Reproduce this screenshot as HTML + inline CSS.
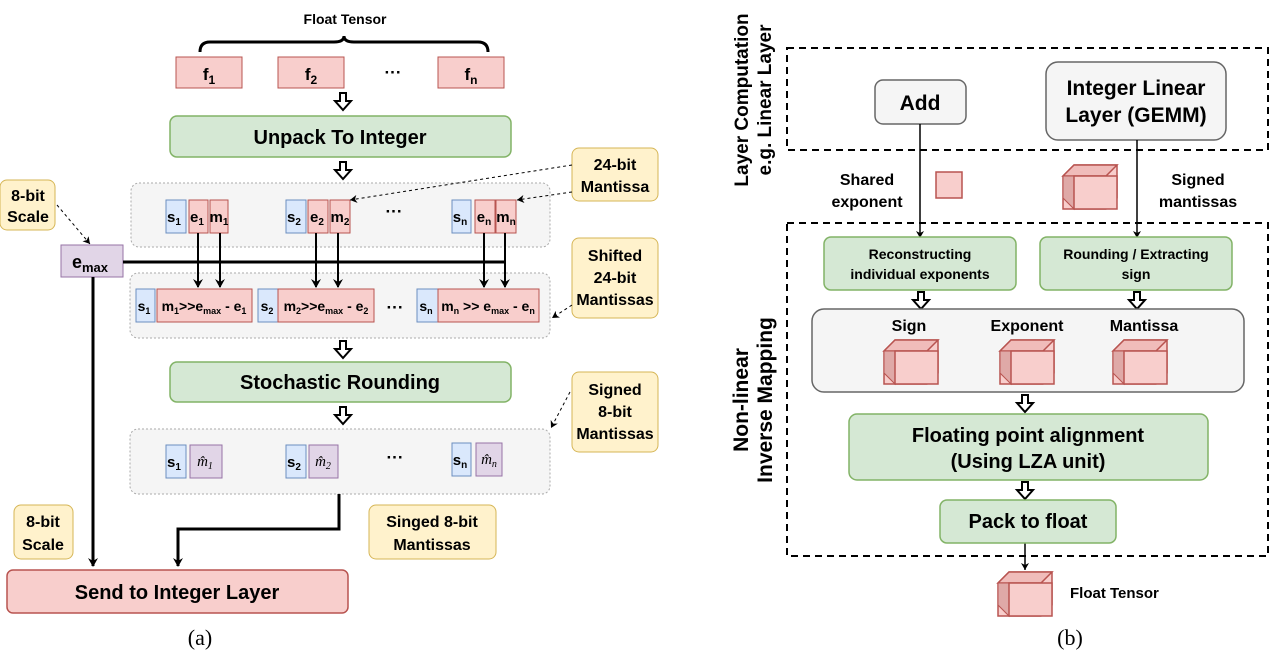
<!DOCTYPE html>
<html><head><meta charset="utf-8"><style>
body{margin:0;background:#fff;}
svg{display:block;font-family:"Liberation Sans",sans-serif;font-weight:bold;}
</style></head><body>
<svg width="1272" height="657" viewBox="0 0 1272 657" xmlns="http://www.w3.org/2000/svg">
<defs>
<marker id="ah" markerWidth="10" markerHeight="10" refX="8" refY="5" orient="auto" markerUnits="userSpaceOnUse"><path d="M0,0 L9,5 L0,10 L3,5 z" fill="#000"/></marker>
<marker id="ahs" markerWidth="8" markerHeight="8" refX="7" refY="4" orient="auto" markerUnits="userSpaceOnUse"><path d="M0,0 L7,4 L0,8 L2,4 z" fill="#000"/></marker>
<g id="hol"><path d="M-3,0 h6 v8 h5 l-8,9 l-8,-9 h5 z" fill="#fff" stroke="#000" stroke-width="2"/></g>
<g id="cube"><path d="M0,11 l11,-11 h43 v33 l-11,11 h-43 z" fill="#f8cecc" stroke="#b85450" stroke-width="1.5"/><path d="M0,11 l11,-11 h43 l-11,11 z" fill="#f0bcba" stroke="#b85450" stroke-width="1.5"/><path d="M0,11 h11 v33 l-11,-11 z" fill="#dfa9a7" stroke="#b85450" stroke-width="1"/><rect x="11" y="11" width="43" height="33" fill="#f8cecc" stroke="#b85450" stroke-width="1.5"/></g>
</defs>

<!-- ===== LEFT (a) ===== -->
<text x="345" y="24" font-size="14" text-anchor="middle">Float Tensor</text>
<path d="M200,52 q0,-10 10,-10 h124 q10,0 10,-6 q0,6 10,6 h124 q10,0 10,10" fill="none" stroke="#000" stroke-width="3"/>
<g font-size="17" text-anchor="middle">
<rect x="176" y="57" width="66" height="31" fill="#f8cecc" stroke="#b85450"/><text x="209" y="80">f<tspan font-size="12" dy="4">1</tspan></text>
<rect x="278" y="57" width="66" height="31" fill="#f8cecc" stroke="#b85450"/><text x="311" y="80">f<tspan font-size="12" dy="4">2</tspan></text>
<text x="393" y="78">···</text>
<rect x="438" y="57" width="66" height="31" fill="#f8cecc" stroke="#b85450"/><text x="471" y="80">f<tspan font-size="12" dy="4">n</tspan></text>
</g>
<use href="#hol" x="343" y="93"/>
<rect x="170" y="116" width="341" height="41" rx="7" fill="#d5e8d4" stroke="#82b366" stroke-width="1.5"/>
<text x="340" y="144" font-size="20" text-anchor="middle">Unpack To Integer</text>
<use href="#hol" x="343" y="162"/>

<!-- container 1 -->
<rect x="131" y="183" width="419" height="64" rx="8" fill="#f5f5f5" stroke="#aaa" stroke-dasharray="2,2"/>
<g font-size="15" text-anchor="middle">
<rect x="166" y="200" width="20" height="33" fill="#dae8fc" stroke="#6c8ebf"/><text x="174" y="222">s<tspan font-size="10" dy="3">1</tspan></text>
<rect x="189" y="200" width="19" height="33" fill="#f8cecc" stroke="#b85450"/><text x="197" y="222">e<tspan font-size="10" dy="3">1</tspan></text>
<rect x="210" y="200" width="18" height="33" fill="#f8cecc" stroke="#b85450"/><text x="219" y="222">m<tspan font-size="10" dy="3">1</tspan></text>
<rect x="286" y="200" width="20" height="33" fill="#dae8fc" stroke="#6c8ebf"/><text x="294" y="222">s<tspan font-size="10" dy="3">2</tspan></text>
<rect x="308" y="200" width="20" height="33" fill="#f8cecc" stroke="#b85450"/><text x="317" y="222">e<tspan font-size="10" dy="3">2</tspan></text>
<rect x="330" y="200" width="20" height="33" fill="#f8cecc" stroke="#b85450"/><text x="340" y="222">m<tspan font-size="10" dy="3">2</tspan></text>
<text x="394" y="217" font-size="17">···</text>
<rect x="452" y="200" width="19" height="33" fill="#dae8fc" stroke="#6c8ebf"/><text x="460" y="222">s<tspan font-size="10" dy="3">n</tspan></text>
<rect x="475" y="200" width="20" height="33" fill="#f8cecc" stroke="#b85450"/><text x="484" y="222">e<tspan font-size="10" dy="3">n</tspan></text>
<rect x="496" y="200" width="20" height="33" fill="#f8cecc" stroke="#b85450"/><text x="506" y="222">m<tspan font-size="10" dy="3">n</tspan></text>
</g>

<!-- yellow notes -->
<g font-size="16" text-anchor="middle">
<rect x="572" y="148" width="86" height="53" rx="7" fill="#fff2cc" stroke="#d6b656"/><text x="615" y="170">24-bit</text><text x="615" y="192">Mantissa</text>
<rect x="0" y="180" width="55" height="50" rx="7" fill="#fff2cc" stroke="#d6b656"/><text x="28" y="201">8-bit</text><text x="28" y="222">Scale</text>
<rect x="572" y="238" width="86" height="80" rx="7" fill="#fff2cc" stroke="#d6b656"/><text x="615" y="261">Shifted</text><text x="615" y="283">24-bit</text><text x="615" y="305">Mantissas</text>
<rect x="572" y="372" width="86" height="80" rx="7" fill="#fff2cc" stroke="#d6b656"/><text x="615" y="395">Signed</text><text x="615" y="417">8-bit</text><text x="615" y="439">Mantissas</text>
<rect x="14" y="505" width="59" height="54" rx="7" fill="#fff2cc" stroke="#d6b656"/><text x="43" y="527">8-bit</text><text x="43" y="550">Scale</text>
<rect x="369" y="505" width="127" height="54" rx="7" fill="#fff2cc" stroke="#d6b656"/><text x="432" y="527">Singed 8-bit</text><text x="432" y="550">Mantissas</text>
</g>
<g stroke="#000" stroke-dasharray="3,3" fill="none" stroke-width="1">
<path d="M572,165 L350,200" marker-end="url(#ahs)"/>
<path d="M572,192 L517,200" marker-end="url(#ahs)"/>
<path d="M57,205 L90,244" marker-end="url(#ahs)"/>
<path d="M572,305 L552,318" marker-end="url(#ahs)"/>
<path d="M570,392 L551,428" marker-end="url(#ahs)"/>
</g>

<!-- emax -->
<rect x="61" y="245" width="62" height="32" fill="#e1d5e7" stroke="#9673a6"/>
<text x="90" y="268" font-size="18" text-anchor="middle">e<tspan font-size="13" dy="4">max</tspan></text>
<path d="M123,262 H506" stroke="#000" stroke-width="3"/>

<!-- container 2 -->
<rect x="130" y="273" width="420" height="65" rx="8" fill="#f5f5f5" stroke="#aaa" stroke-dasharray="2,2"/>
<g stroke="#000" stroke-width="2">
<path d="M198,233 V287" marker-end="url(#ah)"/><path d="M220,233 V287" marker-end="url(#ah)"/>
<path d="M316,233 V287" marker-end="url(#ah)"/><path d="M338,233 V287" marker-end="url(#ah)"/>
<path d="M484,233 V287" marker-end="url(#ah)"/><path d="M505,233 V287" marker-end="url(#ah)"/>
</g>
<g font-size="14" text-anchor="middle">
<rect x="136" y="289" width="19" height="33" fill="#dae8fc" stroke="#6c8ebf"/><text x="144" y="311">s<tspan font-size="9" dy="3">1</tspan></text>
<rect x="157" y="289" width="95" height="33" fill="#f8cecc" stroke="#b85450"/><text x="204" y="311">m<tspan font-size="9" dy="3">1</tspan><tspan dy="-3">&gt;&gt;e</tspan><tspan font-size="9" dy="3">max</tspan><tspan dy="-3"> - e</tspan><tspan font-size="9" dy="3">1</tspan></text>
<rect x="258" y="289" width="20" height="33" fill="#dae8fc" stroke="#6c8ebf"/><text x="267" y="311">s<tspan font-size="9" dy="3">2</tspan></text>
<rect x="278" y="289" width="96" height="33" fill="#f8cecc" stroke="#b85450"/><text x="326" y="311">m<tspan font-size="9" dy="3">2</tspan><tspan dy="-3">&gt;&gt;e</tspan><tspan font-size="9" dy="3">max</tspan><tspan dy="-3"> - e</tspan><tspan font-size="9" dy="3">2</tspan></text>
<text x="395" y="313" font-size="17">···</text>
<rect x="417" y="289" width="21" height="33" fill="#dae8fc" stroke="#6c8ebf"/><text x="426" y="311">s<tspan font-size="9" dy="3">n</tspan></text>
<rect x="438" y="289" width="101" height="33" fill="#f8cecc" stroke="#b85450"/><text x="488" y="311">m<tspan font-size="9" dy="3">n</tspan><tspan dy="-3"> &gt;&gt; e</tspan><tspan font-size="9" dy="3">max</tspan><tspan dy="-3"> - e</tspan><tspan font-size="9" dy="3">n</tspan></text>
</g>

<use href="#hol" x="343" y="341"/>
<rect x="170" y="362" width="341" height="40" rx="7" fill="#d5e8d4" stroke="#82b366" stroke-width="1.5"/>
<text x="340" y="389" font-size="20" text-anchor="middle">Stochastic Rounding</text>
<use href="#hol" x="343" y="407"/>

<!-- container 3 -->
<rect x="130" y="429" width="420" height="65" rx="8" fill="#f5f5f5" stroke="#aaa" stroke-dasharray="2,2"/>
<g font-size="15" text-anchor="middle">
<rect x="166" y="445" width="20" height="33" fill="#dae8fc" stroke="#6c8ebf"/><text x="174" y="467">s<tspan font-size="10" dy="3">1</tspan></text>
<rect x="190" y="445" width="32" height="33" fill="#e1d5e7" stroke="#9673a6"/><text x="205" y="466" font-family="Liberation Serif" font-style="italic" font-weight="normal">m̂<tspan font-size="10" dy="3">1</tspan></text>
<rect x="286" y="445" width="20" height="33" fill="#dae8fc" stroke="#6c8ebf"/><text x="294" y="467">s<tspan font-size="10" dy="3">2</tspan></text>
<rect x="309" y="445" width="29" height="33" fill="#e1d5e7" stroke="#9673a6"/><text x="323" y="466" font-family="Liberation Serif" font-style="italic" font-weight="normal">m̂<tspan font-size="10" dy="3">2</tspan></text>
<text x="395" y="463" font-size="17">···</text>
<rect x="452" y="443" width="19" height="33" fill="#dae8fc" stroke="#6c8ebf"/><text x="460" y="465">s<tspan font-size="10" dy="3">n</tspan></text>
<rect x="476" y="443" width="26" height="33" fill="#e1d5e7" stroke="#9673a6"/><text x="489" y="464" font-family="Liberation Serif" font-style="italic" font-weight="normal">m̂<tspan font-size="10" dy="3">n</tspan></text>
</g>

<g stroke="#000" stroke-width="3" fill="none">
<path d="M93,277 V566" marker-end="url(#ah)"/>
<path d="M339,494 V529 H178 V566" marker-end="url(#ah)"/>
</g>
<rect x="7" y="570" width="341" height="43" rx="6" fill="#f8cecc" stroke="#b85450" stroke-width="1.5"/>
<text x="177" y="599" font-size="20" text-anchor="middle">Send to Integer Layer</text>
<text x="200" y="645" font-size="22" text-anchor="middle" font-family="Liberation Serif" font-weight="normal">(a)</text>

<!-- ===== RIGHT (b) ===== -->
<g font-size="19" text-anchor="middle">
<text transform="translate(748,100) rotate(-90)">Layer Computation</text>
<text transform="translate(771,100) rotate(-90)">e.g. Linear Layer</text>
<text transform="translate(748,400) rotate(-90)" font-size="21">Non-linear</text>
<text transform="translate(772,400) rotate(-90)" font-size="21">Inverse Mapping</text>
</g>
<rect x="787" y="48" width="481" height="102" fill="none" stroke="#000" stroke-width="2" stroke-dasharray="7,5"/>
<rect x="787" y="223" width="481" height="333" fill="none" stroke="#000" stroke-width="2" stroke-dasharray="7,5"/>

<rect x="875" y="80" width="91" height="44" rx="8" fill="#f5f5f5" stroke="#666" stroke-width="1.5"/>
<text x="920" y="110" font-size="21" text-anchor="middle">Add</text>
<rect x="1046" y="62" width="180" height="78" rx="12" fill="#f5f5f5" stroke="#666" stroke-width="1.5"/>
<text x="1136" y="95" font-size="21" text-anchor="middle">Integer Linear</text>
<text x="1136" y="122" font-size="21" text-anchor="middle">Layer (GEMM)</text>

<g font-size="16" text-anchor="middle">
<text x="867" y="185">Shared</text><text x="867" y="207">exponent</text>
<text x="1198" y="185">Signed</text><text x="1198" y="207">mantissas</text>
</g>
<rect x="936" y="172" width="26" height="26" fill="#f8cecc" stroke="#b85450" stroke-width="1.5"/>
<use href="#cube" x="1063" y="165"/>

<g stroke="#000" stroke-width="1.5">
<path d="M920,124 V238" marker-end="url(#ahs)"/>
<path d="M1137,140 V238" marker-end="url(#ahs)"/>
<path d="M1025,543 V570" marker-end="url(#ahs)"/>
</g>

<rect x="824" y="237" width="192" height="53" rx="7" fill="#d5e8d4" stroke="#82b366" stroke-width="1.5"/>
<text x="920" y="259" font-size="14" text-anchor="middle">Reconstructing</text>
<text x="920" y="279" font-size="14" text-anchor="middle">individual exponents</text>
<rect x="1040" y="237" width="192" height="53" rx="7" fill="#d5e8d4" stroke="#82b366" stroke-width="1.5"/>
<text x="1136" y="259" font-size="14" text-anchor="middle">Rounding / Extracting</text>
<text x="1136" y="279" font-size="14" text-anchor="middle">sign</text>
<use href="#hol" x="921" y="292"/>
<use href="#hol" x="1137" y="292"/>

<rect x="812" y="309" width="432" height="83" rx="12" fill="#f5f5f5" stroke="#666" stroke-width="1.5"/>
<g font-size="16" text-anchor="middle">
<text x="909" y="331">Sign</text><text x="1027" y="331">Exponent</text><text x="1144" y="331">Mantissa</text>
</g>
<use href="#cube" x="884" y="340"/>
<use href="#cube" x="1000" y="340"/>
<use href="#cube" x="1113" y="340"/>

<use href="#hol" x="1025" y="395"/>
<rect x="849" y="414" width="359" height="66" rx="8" fill="#d5e8d4" stroke="#82b366" stroke-width="1.5"/>
<text x="1028" y="442" font-size="20" text-anchor="middle">Floating point alignment</text>
<text x="1028" y="468" font-size="20" text-anchor="middle">(Using LZA unit)</text>
<use href="#hol" x="1025" y="482"/>
<rect x="940" y="500" width="176" height="43" rx="7" fill="#d5e8d4" stroke="#82b366" stroke-width="1.5"/>
<text x="1028" y="528" font-size="20" text-anchor="middle">Pack to float</text>

<use href="#cube" x="998" y="572"/>
<text x="1070" y="598" font-size="15">Float Tensor</text>
<text x="1070" y="645" font-size="22" text-anchor="middle" font-family="Liberation Serif" font-weight="normal">(b)</text>
</svg>
</body></html>
